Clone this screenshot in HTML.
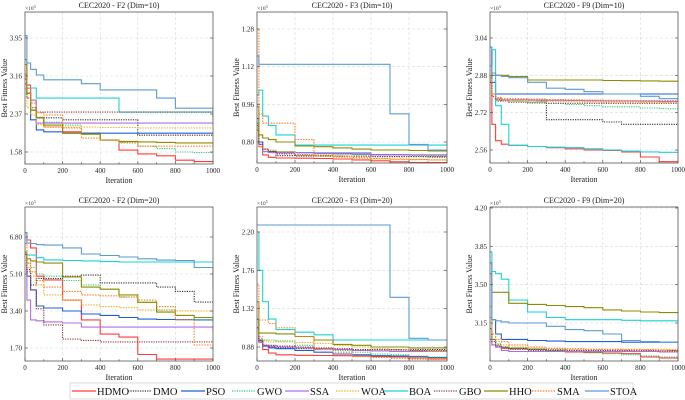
<!DOCTYPE html>
<html><head><meta charset="utf-8">
<style>
html,body{margin:0;padding:0;background:#fff;}
svg{display:block;font-family:"Liberation Serif",serif;}
</style></head>
<body>
<svg id="fig" width="685" height="400" viewBox="0 0 685 400" xmlns="http://www.w3.org/2000/svg"></svg>
<script>
// shared iteration sample points
const iterations = [0,10,30,60,100,200,300,400,500,600,700,800,900,1000];
const algorithms = ["HDMO","DMO","PSO","GWO","SSA","WOA","BOA","GBO","HHO","SMA","STOA"];

// Panel 1: CEC2020 - F2 (Dim=10), x10^3
const f2d10_HDMO = [3.4,2.97,2.45,2.29,2.10,2.0,1.97,1.83,1.62,1.54,1.50,1.41,1.38,1.37];
const f2d10_DMO  = [3.2,2.9,2.66,2.29,2.29,2.25,2.25,2.25,2.25,1.93,1.93,1.93,1.93,1.93];
const f2d10_PSO  = [3.0,2.8,2.25,2.04,2.0,1.97,1.97,1.97,1.97,1.97,1.97,1.97,1.97,1.97];
const f2d10_GWO  = [3.0,2.7,2.45,2.3,2.2,2.14,1.95,1.83,1.78,1.70,1.65,1.58,1.57,1.56];
const f2d10_SSA  = [3.0,2.8,2.66,2.18,2.18,2.18,2.18,2.18,2.18,2.18,2.18,2.18,2.18,2.18];
const f2d10_WOA  = [2.9,2.5,2.35,2.15,2.10,2.10,2.10,2.09,2.09,2.08,2.08,2.08,2.08,2.08];
const f2d10_BOA  = [3.2,2.91,2.91,2.70,2.70,2.70,2.70,2.70,2.41,2.41,2.41,2.41,2.41,2.25];
const f2d10_GBO  = [3.1,2.7,2.5,2.41,2.41,2.41,2.41,2.41,2.41,2.41,2.41,2.41,2.41,2.41];
const f2d10_HHO  = [3.5,2.8,2.45,2.3,2.14,1.97,1.95,1.83,1.80,1.79,1.78,1.77,1.77,1.77];
const f2d10_SMA  = [3.2,2.9,2.6,2.4,2.35,2.08,1.87,1.82,1.77,1.70,1.70,1.70,1.70,1.70];
const f2d10_STOA = [4.0,3.43,3.3,3.18,3.08,3.08,3.0,2.87,2.87,2.87,2.70,2.49,2.49,2.29];

// Panel 2: CEC2020 - F3 (Dim=10), x10^3
const f3d10_HDMO = [0.85,0.78,0.745,0.735,0.732,0.731,0.730,0.728,0.724,0.72,0.716,0.713,0.713,0.713];
const f3d10_DMO  = [0.88,0.80,0.77,0.76,0.742,0.740,0.740,0.740,0.740,0.738,0.738,0.738,0.736,0.736];
const f3d10_PSO  = [0.90,0.80,0.77,0.76,0.758,0.755,0.752,0.750,0.748,0.747,0.746,0.745,0.745,0.745];
const f3d10_GWO  = [0.88,0.78,0.758,0.758,0.758,0.755,0.752,0.750,0.748,0.746,0.745,0.742,0.741,0.741];
const f3d10_SSA  = [0.86,0.79,0.76,0.755,0.754,0.754,0.754,0.754,0.754,0.745,0.745,0.745,0.745,0.745];
const f3d10_WOA  = [0.86,0.78,0.77,0.766,0.760,0.745,0.740,0.735,0.730,0.728,0.726,0.725,0.724,0.724];
const f3d10_GBO  = [0.87,0.79,0.77,0.76,0.75,0.745,0.742,0.740,0.740,0.738,0.738,0.738,0.738,0.738];
const f3d10_BOA  = [1.0,1.02,0.91,0.87,0.83,0.787,0.787,0.787,0.787,0.787,0.787,0.787,0.787,0.787];
const f3d10_HHO  = [0.95,0.83,0.817,0.81,0.80,0.783,0.78,0.775,0.770,0.766,0.766,0.764,0.762,0.762];
const f3d10_SMA  = [1.28,0.92,0.88,0.88,0.88,0.81,0.745,0.740,0.735,0.730,0.728,0.726,0.724,0.724];
const f3d10_STOA = [1.165,1.13,1.13,1.13,1.13,1.13,1.13,1.13,1.13,1.13,0.92,0.79,0.766,0.758];

// Panel 3: CEC2020 - F9 (Dim=10), x10^3
const f9d10_HDMO = [2.85,2.67,2.60,2.585,2.58,2.575,2.57,2.565,2.56,2.558,2.552,2.53,2.51,2.50];
const f9d10_DMO  = [2.85,2.80,2.77,2.77,2.77,2.77,2.69,2.69,2.69,2.68,2.67,2.67,2.67,2.67];
const f9d10_PSO  = [3.0,2.85,2.80,2.80,2.80,2.80,2.80,2.80,2.80,2.80,2.80,2.80,2.80,2.80];
const f9d10_GWO  = [2.86,2.80,2.78,2.775,2.77,2.765,2.76,2.755,2.75,2.745,2.745,2.74,2.737,2.735];
const f9d10_SSA  = [2.86,2.80,2.78,2.775,2.775,2.774,2.773,2.772,2.771,2.770,2.770,2.769,2.768,2.768];
const f9d10_WOA  = [2.86,2.80,2.78,2.775,2.772,2.770,2.768,2.767,2.766,2.765,2.765,2.764,2.764,2.764];
const f9d10_BOA  = [3.0,2.99,2.75,2.67,2.58,2.575,2.572,2.57,2.565,2.56,2.555,2.552,2.55,2.55];
const f9d10_GBO  = [2.85,2.79,2.775,2.77,2.765,2.762,2.760,2.760,2.760,2.760,2.760,2.760,2.760,2.760];
const f9d10_HHO  = [2.92,2.88,2.88,2.88,2.875,2.86,2.86,2.86,2.86,2.858,2.857,2.856,2.855,2.855];
const f9d10_SMA  = [2.87,2.80,2.785,2.78,2.78,2.778,2.776,2.775,2.774,2.773,2.772,2.772,2.772,2.772];
const f9d10_STOA = [2.92,2.89,2.88,2.875,2.87,2.85,2.825,2.82,2.81,2.80,2.80,2.79,2.78,2.765];

// Panel 4: CEC2020 - F2 (Dim=20), x10^3
const f2d20_HDMO = [7.0,6.66,6.3,5.0,4.83,3.9,2.99,2.34,2.20,1.40,1.19,1.19,1.19,1.19];
const f2d20_DMO  = [6.0,5.3,4.6,4.9,4.9,5.0,5.05,4.69,4.69,4.69,4.5,4.3,3.81,3.81];
const f2d20_PSO  = [6.0,5.0,4.37,3.63,3.54,3.40,3.26,3.20,3.10,3.03,3.01,3.0,2.99,2.99];
const f2d20_GWO  = [6.0,5.6,5.4,5.1,5.0,4.8,4.6,4.4,4.04,3.8,3.45,3.2,3.0,2.85];
const f2d20_SSA  = [6.0,3.9,2.99,2.95,2.90,2.85,2.66,2.66,2.66,2.66,2.66,2.66,2.66,2.48];
const f2d20_WOA  = [6.0,5.4,5.0,4.6,4.14,3.9,3.68,3.6,3.55,3.45,3.43,3.41,3.40,3.40];
const f2d20_BOA  = [6.0,5.97,5.97,5.85,5.75,5.72,5.70,5.67,5.65,5.65,5.65,5.65,5.65,5.65];
const f2d20_GBO  = [6.0,5.2,4.37,3.5,2.76,2.11,2.05,1.98,1.98,1.98,1.98,1.98,1.98,1.98];
const f2d20_HHO  = [6.1,5.8,5.7,5.65,5.6,4.96,4.50,4.40,4.14,3.8,3.35,3.2,3.1,3.03];
const f2d20_SMA  = [6.5,5.6,5.2,4.8,4.50,4.3,4.14,4.10,4.05,3.9,3.6,3.0,1.84,1.61];
const f2d20_STOA = [7.0,6.52,6.5,6.45,6.43,6.3,6.02,5.95,5.88,5.80,5.74,5.72,5.40,4.37];

// Panel 5: CEC2020 - F3 (Dim=20), x10^5
const f3d20_HDMO = [1.2,0.95,0.85,0.81,0.79,0.785,0.782,0.78,0.775,0.77,0.765,0.755,0.745,0.735];
const f3d20_DMO  = [1.1,0.95,0.90,0.88,0.87,0.86,0.855,0.852,0.85,0.85,0.85,0.85,0.85,0.85];
const f3d20_PSO  = [1.2,0.96,0.89,0.87,0.86,0.84,0.82,0.80,0.79,0.78,0.775,0.77,0.76,0.76];
const f3d20_GWO  = [1.1,0.98,0.96,0.96,0.95,0.90,0.86,0.84,0.82,0.80,0.79,0.775,0.765,0.76];
const f3d20_SSA  = [1.1,0.93,0.90,0.89,0.88,0.87,0.86,0.85,0.84,0.835,0.83,0.83,0.83,0.83];
const f3d20_WOA  = [1.1,1.0,0.95,0.94,0.94,0.93,0.92,0.90,0.88,0.86,0.85,0.84,0.83,0.83];
const f3d20_BOA  = [2.2,1.76,1.40,1.20,1.08,1.05,1.02,0.96,0.96,0.96,0.96,0.96,0.96,0.96];
const f3d20_GBO  = [1.1,0.95,0.90,0.90,0.89,0.88,0.87,0.86,0.85,0.85,0.845,0.84,0.84,0.84];
const f3d20_HHO  = [1.4,1.04,1.04,1.04,1.03,1.0,0.96,0.91,0.90,0.88,0.88,0.87,0.87,0.86];
const f3d20_SMA  = [1.6,1.19,1.19,1.15,1.10,1.0,0.85,0.82,0.77,0.76,0.75,0.74,0.735,0.73];
const f3d20_STOA = [2.28,2.28,2.28,2.28,2.28,2.28,2.28,2.28,2.28,2.28,1.45,0.98,0.96,0.96];

// Panel 6: CEC2020 - F9 (Dim=20), x10^3
const f9d20_HDMO = [3.0,2.95,2.93,2.92,2.915,2.91,2.89,2.885,2.88,2.875,2.87,2.84,2.83,2.82];
const f9d20_DMO  = [3.1,3.0,2.95,2.93,2.92,2.91,2.905,2.90,2.90,2.90,2.90,2.90,2.90,2.90];
const f9d20_PSO  = [3.7,3.18,3.05,3.0,3.0,2.99,2.985,2.98,2.98,2.98,2.975,2.975,2.975,2.97];
const f9d20_GWO  = [3.2,3.0,2.96,2.93,2.92,2.91,2.90,2.89,2.88,2.87,2.86,2.85,2.84,2.84];
const f9d20_SSA  = [3.0,2.95,2.93,2.90,2.89,2.89,2.89,2.89,2.89,2.89,2.89,2.89,2.885,2.885];
const f9d20_WOA  = [3.3,3.05,2.98,2.95,2.93,2.92,2.915,2.91,2.91,2.91,2.91,2.91,2.91,2.91];
const f9d20_BOA  = [3.8,3.62,3.60,3.55,3.36,3.25,3.20,3.18,3.18,3.18,3.175,3.17,3.17,3.17];
const f9d20_GBO  = [3.1,2.98,2.94,2.92,2.91,2.90,2.90,2.90,2.90,2.90,2.90,2.90,2.895,2.895];
const f9d20_HHO  = [3.6,3.43,3.43,3.43,3.33,3.32,3.31,3.30,3.29,3.27,3.26,3.25,3.245,3.24];
const f9d20_SMA  = [3.2,3.05,3.0,2.98,2.95,2.93,2.92,2.915,2.91,2.91,2.905,2.905,2.90,2.90];
const f9d20_STOA = [3.7,3.18,3.17,3.16,3.15,3.15,3.12,3.09,3.08,3.05,2.99,2.98,2.975,2.97];

// tick labels
const xTicks = [0,200,400,600,800,1000];
const yTicks_f2d10 = [1.58,2.37,3.16,3.95];
const yTicks_f3d10 = [0.80,0.96,1.12,1.28];
const yTicks_f9d10 = [2.56,2.72,2.88,3.04];
const yTicks_f2d20 = [1.70,3.40,5.10,6.80];
const yTicks_f3d20 = [0.88,1.32,1.76,2.20];
const yTicks_f9d20 = [3.15,3.50,3.85,4.20];

const styles = {
 HDMO:{c:"#ff3b3b",d:null}, DMO:{c:"#333333",d:"1.2 1.2"}, PSO:{c:"#1f5fd6",d:null},
 GWO:{c:"#2ecc71",d:"1.2 1.2"}, SSA:{c:"#b06ee0",d:null}, WOA:{c:"#f0b429",d:"1.5 1.2"},
 BOA:{c:"#1ad3d3",d:null}, GBO:{c:"#8b3a3a",d:"1.2 1.2"}, HHO:{c:"#8c8c00",d:null},
 SMA:{c:"#ff7f27",d:"1.5 1.2"}, STOA:{c:"#5a9bd5",d:null}
};

const panels = [
 {id:"f2d10", title:"CEC2020 - F2 (Dim=10)", exp:"3", x0:25,x1:213,top:12,bot:164, yA:1.58,pA:152, yB:3.95,pB:38, ticks:yTicks_f2d10,
  series:{HDMO:f2d10_HDMO,DMO:f2d10_DMO,PSO:f2d10_PSO,GWO:f2d10_GWO,SSA:f2d10_SSA,WOA:f2d10_WOA,BOA:f2d10_BOA,GBO:f2d10_GBO,HHO:f2d10_HHO,SMA:f2d10_SMA,STOA:f2d10_STOA}},
 {id:"f3d10", title:"CEC2020 - F3 (Dim=10)", exp:"3", x0:257,x1:447,top:12,bot:163, yA:0.80,pA:142, yB:1.28,pB:29, ticks:yTicks_f3d10,
  series:{HDMO:f3d10_HDMO,DMO:f3d10_DMO,PSO:f3d10_PSO,GWO:f3d10_GWO,SSA:f3d10_SSA,WOA:f3d10_WOA,BOA:f3d10_BOA,GBO:f3d10_GBO,HHO:f3d10_HHO,SMA:f3d10_SMA,STOA:f3d10_STOA}},
 {id:"f9d10", title:"CEC2020 - F9 (Dim=10)", exp:"3", x0:490,x1:678,top:12,bot:163, yA:2.56,pA:150, yB:3.04,pB:38, ticks:yTicks_f9d10,
  series:{HDMO:f9d10_HDMO,DMO:f9d10_DMO,PSO:f9d10_PSO,GWO:f9d10_GWO,SSA:f9d10_SSA,WOA:f9d10_WOA,BOA:f9d10_BOA,GBO:f9d10_GBO,HHO:f9d10_HHO,SMA:f9d10_SMA,STOA:f9d10_STOA}},
 {id:"f2d20", title:"CEC2020 - F2 (Dim=20)", exp:"3", x0:25,x1:213,top:207,bot:361, yA:1.70,pA:348, yB:6.80,pB:237, ticks:yTicks_f2d20,
  series:{HDMO:f2d20_HDMO,DMO:f2d20_DMO,PSO:f2d20_PSO,GWO:f2d20_GWO,SSA:f2d20_SSA,WOA:f2d20_WOA,BOA:f2d20_BOA,GBO:f2d20_GBO,HHO:f2d20_HHO,SMA:f2d20_SMA,STOA:f2d20_STOA}},
 {id:"f3d20", title:"CEC2020 - F3 (Dim=20)", exp:"5", x0:257,x1:447,top:207,bot:361, yA:0.88,pA:347, yB:2.20,pB:232, ticks:yTicks_f3d20,
  series:{HDMO:f3d20_HDMO,DMO:f3d20_DMO,PSO:f3d20_PSO,GWO:f3d20_GWO,SSA:f3d20_SSA,WOA:f3d20_WOA,BOA:f3d20_BOA,GBO:f3d20_GBO,HHO:f3d20_HHO,SMA:f3d20_SMA,STOA:f3d20_STOA}},
 {id:"f9d20", title:"CEC2020 - F9 (Dim=20)", exp:"3", x0:490,x1:678,top:207,bot:361, yA:3.15,pA:323, yB:4.20,pB:208, ticks:yTicks_f9d20,
  series:{HDMO:f9d20_HDMO,DMO:f9d20_DMO,PSO:f9d20_PSO,GWO:f9d20_GWO,SSA:f9d20_SSA,WOA:f9d20_WOA,BOA:f9d20_BOA,GBO:f9d20_GBO,HHO:f9d20_HHO,SMA:f9d20_SMA,STOA:f9d20_STOA}}
];

const NS="http://www.w3.org/2000/svg";
const svg=document.getElementById("fig");
function mk(tag,attrs,parent,text){const e=document.createElementNS(NS,tag);for(const k in attrs)e.setAttribute(k,attrs[k]);if(text!==undefined)e.textContent=text;(parent||svg).appendChild(e);return e;}

panels.forEach(p=>{
  const g=mk("g",{});
  
  
  const xs=v=>p.x0+(v/1000)*(p.x1-p.x0);
  const ys=v=>p.pA+(v-p.yA)*(p.pB-p.pA)/(p.yB-p.yA);
  xTicks.forEach(t=>{ if(t>0&&t<1000) mk("line",{x1:xs(t),x2:xs(t),y1:p.top,y2:p.bot,stroke:"#d8d8d8","stroke-width":0.6,"stroke-dasharray":"3 2"},g); });
  p.ticks.forEach(t=>{ mk("line",{x1:p.x0,x2:p.x1,y1:ys(t),y2:ys(t),stroke:"#d8d8d8","stroke-width":0.6,"stroke-dasharray":"3 2"},g); });
  const cp=mk("clipPath",{id:"clip-"+p.id},g);
  mk("rect",{x:p.x0,y:p.top,width:p.x1-p.x0,height:p.bot-p.top},cp);
  const lg=mk("g",{"clip-path":"url(#clip-"+p.id+")"},g);
  algorithms.forEach(a=>{
    const vals=p.series[a];
    let d="M"+xs(iterations[0]).toFixed(1)+","+ys(vals[0]).toFixed(1);
    for(let i=1;i<iterations.length;i++){
      d+=" H"+xs(iterations[i]).toFixed(1)+" V"+ys(vals[i]).toFixed(1);
    }
    const s=styles[a];
    const path=mk("path",{d:d,fill:"none",stroke:s.c,"stroke-width":1.1},lg);
    if(s.d) path.setAttribute("stroke-dasharray",s.d);
    
    
  });
  mk("rect",{x:p.x0,y:p.top,width:p.x1-p.x0,height:p.bot-p.top,fill:"none",stroke:"#555","stroke-width":0.8},g);
  for(let t=0;t<=1000;t+=100){
    const len=(t%200===0)?3:1.8;
    mk("line",{x1:xs(t),x2:xs(t),y1:p.bot,y2:p.bot-len,stroke:"#555","stroke-width":0.7},g);
  }
  xTicks.forEach(t=>{
    const tx=mk("text",{x:xs(t),y:p.bot+9,"font-size":7,"text-anchor":"middle",fill:"#222"},g,String(t));
    
    
  });
  p.ticks.forEach(t=>{
    mk("line",{x1:p.x0,x2:p.x0+3,y1:ys(t),y2:ys(t),stroke:"#555","stroke-width":0.7},g);
    mk("line",{x1:p.x1,x2:p.x1-3,y1:ys(t),y2:ys(t),stroke:"#555","stroke-width":0.7},g);
    const tx=mk("text",{x:p.x0-3,y:ys(t)+2.5,"font-size":7,"text-anchor":"end",fill:"#222"},g,t.toFixed(2));
    
    
  });
  const ex=mk("text",{x:p.x0,y:p.top-2,"font-size":5.5,fill:"#333"},g);
  
  
  mk("tspan",{},ex,"×10");
  mk("tspan",{dy:-2,"font-size":4},ex,p.exp);
  const ti=mk("text",{x:(p.x0+p.x1)/2,y:p.top-4,"font-size":8,"text-anchor":"middle",fill:"#222"},g,p.title);
  
  
  const xl=mk("text",{x:(p.x0+p.x1)/2,y:p.bot+19,"font-size":8,"text-anchor":"middle",fill:"#222"},g,"Iteration");
  
  
  const yx=p.x0-18, ym=(p.top+p.bot)/2;
  const yl=mk("text",{x:yx,y:ym,"font-size":8,"text-anchor":"middle",fill:"#222",transform:"rotate(-90 "+yx+" "+ym+")"},g,"Best Fitness Value");
  
  
});

const leg=mk("g",{});


mk("rect",{x:70,y:383,width:563,height:16,fill:"#fff",stroke:"#ccc","stroke-width":0.7},leg);
const legendX=[72,128,181,232,285,336,384,434,484,532,585];
algorithms.forEach((a,i)=>{
  const e=mk("g",{},leg);
  
  
  const x=legendX[i], s=styles[a];
  const ln=mk("line",{x1:x,x2:x+24,y1:391,y2:391,stroke:s.c,"stroke-width":1.2},e);
  if(s.d) ln.setAttribute("stroke-dasharray",s.d);
  mk("text",{x:x+25,y:395,"font-size":10.5,fill:"#111"},e,a);
});
</script>
</body></html>
